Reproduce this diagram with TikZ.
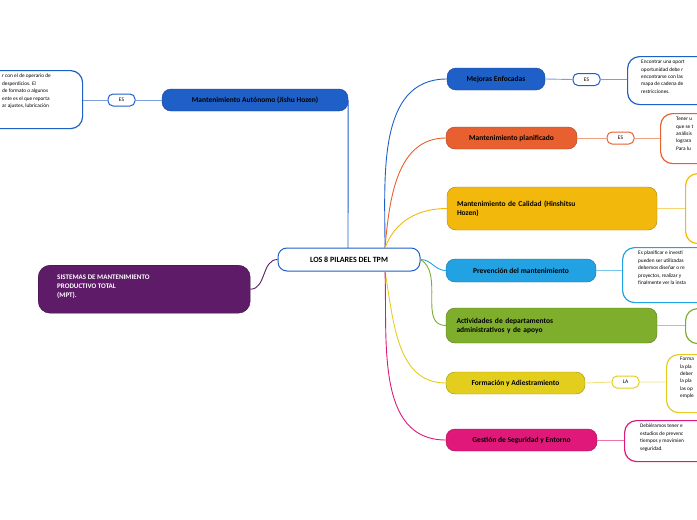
\documentclass[tikz,border=0pt]{standalone}
\usepackage{fontspec}
\setmainfont{Carlito}
\begin{document}
\begin{tikzpicture}[x=1pt,y=-1pt,
  topic/.style={draw=#1!70!black,fill=#1,rounded corners=9pt,text=black,font=\bfseries\fontsize{7.5}{9}\selectfont,inner sep=0pt,anchor=north west,align=left},
  lbl/.style={draw=#1,fill=white,rounded corners=5pt,line width=1pt,font=\fontsize{5.5}{6}\selectfont,minimum width=27pt,minimum height=12pt,inner sep=0pt},
  note/.style={draw=#1,fill=white,rounded corners=12pt,line width=1.2pt},
  ntext/.style={font=\fontsize{5.3}{7.4}\selectfont,align=left,anchor=north west,inner sep=0pt},
  link/.style={draw=#1,line width=0.9pt}]
\definecolor{cblue}{HTML}{1F5FC8}\definecolor{corange}{HTML}{E8602F}
\definecolor{cgold}{HTML}{F2B90C}\definecolor{clblue}{HTML}{22A2E2}
\definecolor{cgreen}{HTML}{7FAE2C}\definecolor{cyel}{HTML}{E3CE1E}
\definecolor{cpink}{HTML}{E0187A}\definecolor{cpurp}{HTML}{5E1C68}
\useasboundingbox (0,0) rectangle (697,520);
\clip (0,0) rectangle (697,520);
% central
\node[draw=cblue,fill=white,rounded corners=9pt,line width=1pt,minimum width=142pt,minimum height=23pt,font=\bfseries\fontsize{8}{9}\selectfont] (c) at (349,259.5) {LOS 8 PILARES DEL TPM};
% topics
\node[draw=cpurp!60!black,fill=cpurp,rounded corners=12pt,minimum width=212pt,minimum height=48pt,anchor=north west,inner sep=0pt] (p) at (38,265) {};
\node[anchor=north west,text=white,font=\bfseries\fontsize{7}{9}\selectfont,align=left,inner sep=0pt] (pt) at (57,275) {SISTEMAS DE MANTENIMIENTO\\PRODUCTIVO TOTAL\\(MPT).};
\node[topic=cblue,minimum width=186pt,minimum height=22pt,align=center,anchor=center] (ma) at (255,100) {Mantenimiento Autónomo (Jishu Hozen)};
\node[topic=cblue,minimum width=98pt,minimum height=22pt,align=center,anchor=center] (me) at (496,79) {Mejoras Enfocadas};
\node[topic=corange,minimum width=131pt,minimum height=22pt,align=center,anchor=center] (mp) at (511.5,138) {Mantenimiento planificado};
\node[topic=cgold,minimum width=210pt,minimum height=43pt,text width=190pt,anchor=center] (mc) at (552,208.5) {Mantenimiento de Calidad (Hinshitsu\\Hozen)};
\node[topic=clblue,minimum width=150pt,minimum height=23pt,align=center,anchor=center] (pv) at (521,270.5) {Prevención del mantenimiento};
\node[topic=cgreen,minimum width=211pt,minimum height=35pt,text width=190pt,anchor=center] (ad) at (551.5,325.5) {Actividades de departamentos\\administrativos y de apoyo};
\node[topic=cyel,minimum width=139pt,minimum height=22pt,align=center,anchor=center] (fo) at (515.5,383) {Formación y Adiestramiento};
\node[topic=cpink,minimum width=151pt,minimum height=22pt,align=center,anchor=center] (ge) at (521.5,440) {Gestión de Seguridad y Entorno};
% labels
\node[lbl=cblue] (l1) at (121.5,100) {ES};
\node[lbl=cblue] (l2) at (586.5,79.5) {ES};
\node[lbl=corange] (l3) at (620.5,138) {ES};
\node[lbl=cyel] (l4) at (625.5,382) {LA};
% notes
\node[note=cblue,minimum width=100pt,minimum height=58pt,anchor=north west] (n0) at (-18,70) {};
\node[ntext] at (2,74) {r con el de operario de\\desperdicios. El\\de formato o algunos\\ente es el que reporta\\ar ajustes, lubricación};
\node[note=cblue,minimum width=90pt,minimum height=48pt,anchor=north west] (n1) at (627,56) {};
\node[ntext] at (641,60) {Encontrar una oport\\oportunidad debe r\\encontrarse con las\\mapa de cadena de\\restricciones.};
\node[note=corange,minimum width=60pt,minimum height=50pt,anchor=north west] (n2) at (660,113) {};
\node[ntext] at (676,117) {Tener u\\que se t\\análisis\\lograra\\Para lu};
\node[note=cgold,minimum width=40pt,minimum height=70pt,anchor=north west] (n3) at (685,173) {};
\node[note=clblue,minimum width=90pt,minimum height=55pt,anchor=north west] (n4) at (622,247) {};
\node[ntext] at (638,251) {Es planificar e investi\\pueden ser utilizadas\\debemos diseñar o re\\proyectos, realizar y\\finalmente ver la insta};
\node[note=cgreen,minimum width=40pt,minimum height=35pt,anchor=north west] (n5) at (685,308) {};
\node[note=cyel,minimum width=50pt,minimum height=58pt,anchor=north west] (n6) at (666,354) {};
\node[ntext] at (680,357) {Forma\\la pla\\deber\\la pla\\las op\\emple};
\node[note=cpink,minimum width=90pt,minimum height=41pt,anchor=north west] (n7) at (624,420) {};
\node[ntext] at (640,424) {Debíéramos tener e\\estudios de prevenc\\tiempos y movimien\\seguridad.};
% connectors
\coordinate (cr) at (385,248);
\draw[link=cblue] (348,248) -- (ma.east);
\draw[link=cpurp] (c.west) to[out=180,in=0] (p.east);
\draw[link=cblue] (cr) to[out=90,in=180] (me.west);
\draw[link=corange] (cr) to[out=85,in=180] (mp.west);
\draw[link=cgold] (cr) to[out=70,in=180] (mc.west);
\draw[link=clblue] (c.east) to[out=0,in=180] (pv.west);
\draw[link=cgreen] (c.east) to[out=-30,in=180] (ad.west);
\draw[link=cyel] (cr|-c.south) to[out=-80,in=180] (fo.west);
\draw[link=cpink] (cr|-c.south) to[out=-88,in=180] (ge.west);
\draw[link=cblue!60] (ma.west) -- (l1.east) (l1.west) -- (n0.east|-l1);
\draw[link=cblue!60] (me.east) -- (l2.west) (l2.east) -- (n1.west|-l2);
\draw[link=corange!60] (mp.east) -- (l3.west) (l3.east) -- (n2.west|-l3);
\draw[link=cgold!60] (mc.east) -- (n3.west|-mc);
\draw[link=clblue!60] (pv.east) -- (n4.west|-pv);
\draw[link=cgreen!60] (ad.east) -- (n5.west|-ad);
\draw[link=cyel!60] (fo.east) -- (l4.west) (l4.east) -- (n6.west|-l4);
\draw[link=cpink!60] (ge.east) -- (n7.west|-ge);
\end{tikzpicture}
\end{document}
